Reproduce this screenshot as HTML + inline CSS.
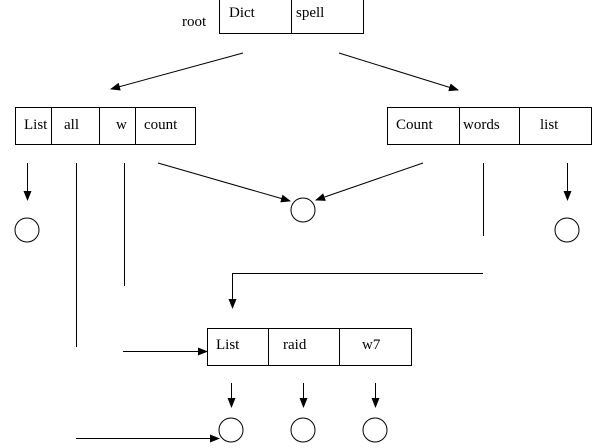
<!DOCTYPE html>
<html><head><meta charset="utf-8"><style>
html,body{margin:0;padding:0;background:#fff;}
svg{display:block;}
text{font-family:"Liberation Serif",serif;font-size:15px;fill:#000;}
</style></head><body>
<svg width="604" height="448" viewBox="0 0 604 448" xmlns="http://www.w3.org/2000/svg">
<defs><marker id="a" markerWidth="10" markerHeight="8" refX="9" refY="4" orient="auto" markerUnits="userSpaceOnUse"><path d="M0,0 L10,4 L0,8 z" fill="#000"/></marker></defs>
<g fill="none" stroke="#000" stroke-width="1">
<rect x="219.5" y="-1" width="144" height="34.5"/>
<line x1="291.5" y1="0" x2="291.5" y2="33"/>
<rect x="15.5" y="107.5" width="180" height="37"/>
<line x1="51.5" y1="107" x2="51.5" y2="144"/>
<line x1="99.5" y1="107" x2="99.5" y2="144"/>
<line x1="135.5" y1="107" x2="135.5" y2="144"/>
<rect x="387.5" y="107.5" width="204" height="37"/>
<line x1="459.5" y1="107" x2="459.5" y2="144"/>
<line x1="519.5" y1="107" x2="519.5" y2="144"/>
<rect x="207.5" y="328.5" width="204" height="37"/>
<line x1="268.5" y1="328" x2="268.5" y2="365"/>
<line x1="339.5" y1="328" x2="339.5" y2="365"/>
<line x1="243" y1="53" x2="111" y2="89" marker-end="url(#a)"/>
<line x1="339" y1="53" x2="458" y2="90" marker-end="url(#a)"/>
<line x1="27.5" y1="163" x2="27.5" y2="200" marker-end="url(#a)"/>
<circle cx="27" cy="230" r="12"/>
<line x1="567.5" y1="163" x2="567.5" y2="200" marker-end="url(#a)"/>
<circle cx="567" cy="230" r="12"/>
<line x1="76.5" y1="163" x2="76.5" y2="347"/>
<line x1="124.5" y1="163" x2="124.5" y2="286"/>
<line x1="483.5" y1="163" x2="483.5" y2="236"/>
<line x1="158" y1="163" x2="290" y2="201" marker-end="url(#a)"/>
<line x1="423" y1="163" x2="316" y2="200" marker-end="url(#a)"/>
<circle cx="303" cy="210" r="12"/>
<polyline points="483,273.5 232.5,273.5 232.5,308" marker-end="url(#a)"/>
<line x1="123" y1="351.5" x2="207" y2="351.5" marker-end="url(#a)"/>
<line x1="231.5" y1="383" x2="231.5" y2="407" marker-end="url(#a)"/>
<line x1="303.5" y1="383" x2="303.5" y2="407" marker-end="url(#a)"/>
<line x1="375.5" y1="383" x2="375.5" y2="407" marker-end="url(#a)"/>
<circle cx="231" cy="430" r="12"/>
<circle cx="303" cy="430" r="12"/>
<circle cx="375" cy="430" r="12"/>
<line x1="76" y1="438.5" x2="219" y2="438.5" marker-end="url(#a)"/>
</g>
<text x="182" y="26">root</text>
<text x="229" y="17">Dict</text>
<text x="296" y="17">spell</text>
<text x="24" y="129">List</text>
<text x="64" y="129">all</text>
<text x="116" y="129">w</text>
<text x="144" y="129">count</text>
<text x="396" y="129">Count</text>
<text x="463" y="129">words</text>
<text x="540" y="129">list</text>
<text x="216" y="349">List</text>
<text x="283" y="349">raid</text>
<text x="362" y="349">w7</text>
</svg>
</body></html>
